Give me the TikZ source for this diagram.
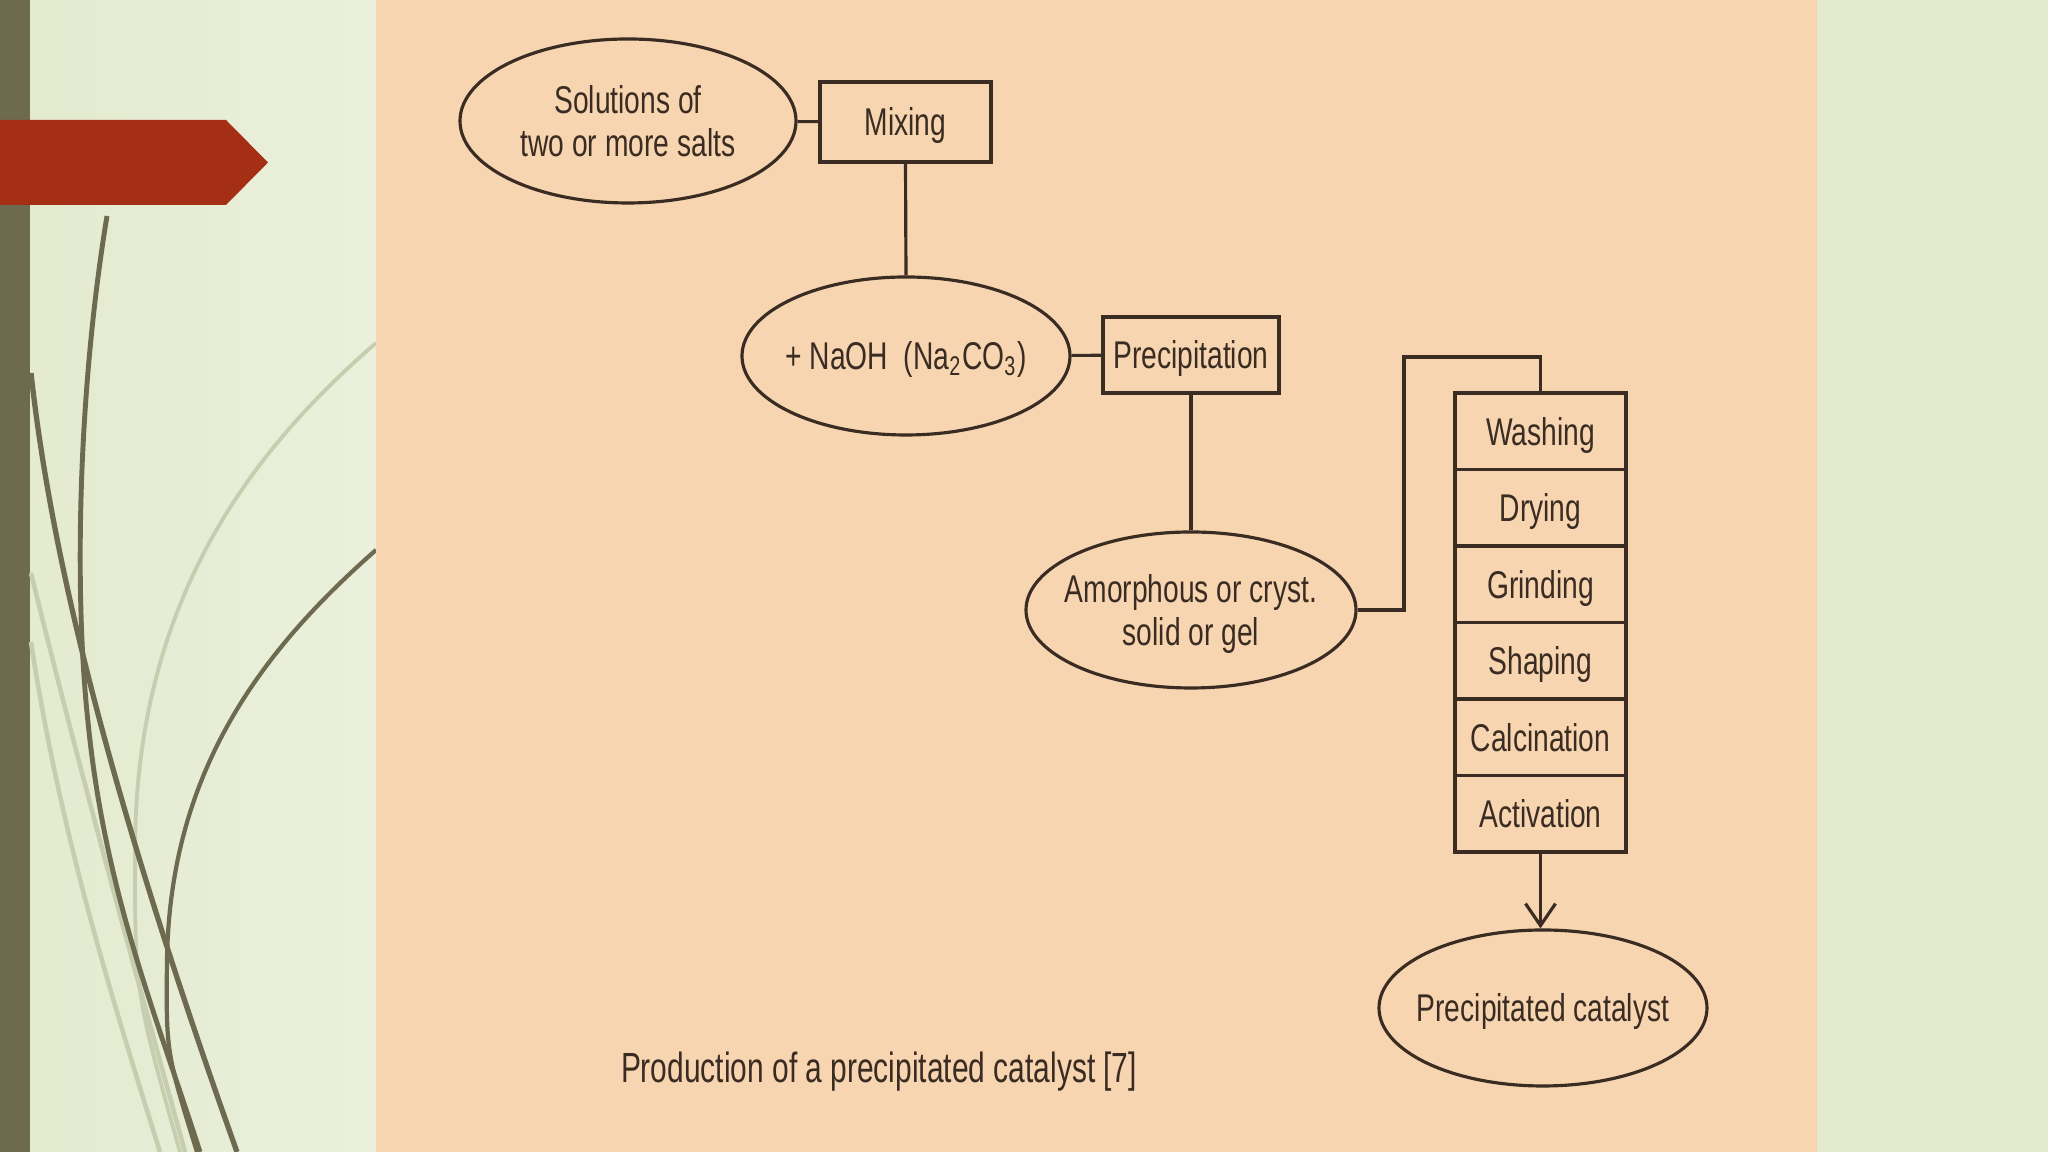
\documentclass[tikz,border=0pt]{standalone}
\usepackage{fontspec}
\setmainfont{Liberation Sans}
\newfontfamily\condfont[FakeStretch=0.73]{Liberation Sans}
\newfontfamily\capfont[FakeStretch=0.71]{Liberation Sans}
\usetikzlibrary{shapes.geometric, arrows.meta, positioning, calc}

\definecolor{peach}{HTML}{F6D5B0}
\definecolor{sage}{HTML}{E3EACD}
\definecolor{sagelight}{HTML}{EBF0DC}
\definecolor{olivebar}{HTML}{6E6A50}
\definecolor{rustred}{HTML}{A52F14}
\definecolor{inkbrown}{HTML}{3A2C22}
\definecolor{palestem}{HTML}{C6CEAF}

\begin{document}
\begin{tikzpicture}[
  line width=0.9pt,
  oval/.style={draw=inkbrown, ellipse, minimum width=3.3cm, minimum height=1.56cm, inner xsep=-1cm, inner ysep=-0.3cm, text depth=0pt, align=center, text=inkbrown, font=\condfont\fontsize{11}{12}\selectfont},
  procbox/.style={draw=inkbrown, rectangle, inner sep=0pt, text depth=0pt, text=inkbrown, font=\condfont\fontsize{11}{12}\selectfont},
  stepcell/.style={draw=inkbrown, rectangle, minimum width=1.71cm, minimum height=0.765cm, inner sep=0pt, outer sep=0pt, text depth=0pt, text=inkbrown, font=\condfont\fontsize{11}{12}\selectfont}
]
\useasboundingbox (0,0) rectangle (20.48,11.52);
% slide background
\shade[left color=sage, right color=sagelight] (0,0) rectangle (3.76,11.52);
\fill[sage] (18.17,0) rectangle (20.48,11.52);
\fill[olivebar] (0,0) rectangle (0.30,11.52);
\fill[rustred] (0,10.32) -- (2.26,10.32) -- (2.68,9.895) -- (2.26,9.47) -- (0,9.47) -- cycle;
% stems
\draw[palestem, line width=1.1pt] (3.76,8.09) .. controls (2.5,7.0) and (1.35,5.5) .. (1.35,3.0) .. controls (1.35,1.6) .. (1.80,0);
\draw[palestem, line width=1.3pt] (0.31,5.79) .. controls (0.8,3.8) and (1.3,2.0) .. (1.85,0);
\draw[palestem, line width=1.3pt] (0.31,5.10) .. controls (0.6,3.2) and (1.1,1.6) .. (1.60,0);
\draw[olivebar, line width=1.4pt] (1.07,9.36) .. controls (0.78,7.6) and (0.74,5.6) .. (0.88,4.3) .. controls (1.05,2.6) and (1.55,1.4) .. (2.00,0);
\draw[olivebar, line width=1.5pt] (0.31,7.79) .. controls (0.55,5.6) and (1.3,3.0) .. (2.37,0);
\draw[olivebar, line width=1.2pt] (3.76,6.02) .. controls (2.6,5.0) and (1.7,3.8) .. (1.67,1.92) .. controls (1.66,1.0) .. (1.97,0);
% figure panel
\fill[peach] (3.76,0) rectangle (18.17,11.52);

% flow chart
\node[oval, minimum width=3.36cm, minimum height=1.64cm] (salts) at (6.28,10.31) {Solutions of\\two or more salts};
\node[procbox, minimum width=1.71cm, minimum height=0.80cm] (mixing) at (9.055,10.30) {Mixing};
\node[oval, minimum width=3.28cm, minimum height=1.58cm] (naoh) at (9.06,7.96) {+ NaOH\ \ (Na\textsubscript{2}CO\textsubscript{3})};
\node[procbox, minimum width=1.76cm, minimum height=0.76cm] (precip) at (11.91,7.97) {Precipitation};
\node[oval] (solid) at (11.91,5.42) {Amorphous or cryst.\\solid or gel};

% treatment steps
\node[stepcell] (wash) at (15.405,7.2075) {Washing};
\node[stepcell, below=0pt of wash] (dry) {Drying};
\node[stepcell, below=0pt of dry] (grind) {Grinding};
\node[stepcell, below=0pt of grind] (shape) {Shaping};
\node[stepcell, below=0pt of shape] (calc) {Calcination};
\node[stepcell, below=0pt of calc] (activ) {Activation};

\node[oval, minimum width=3.28cm] (catalyst) at (15.43,1.44) {Precipitated catalyst};

\coordinate (bend) at (14.04,7.95);

\draw[inkbrown] (salts) -- (mixing);
\draw[inkbrown] (mixing.south) -- (naoh.north);
\draw[inkbrown] (naoh) -- (precip);
\draw[inkbrown] (precip.south) -- (solid.north);
\draw[inkbrown] (solid.east) -| (bend) -| (wash.north);
\draw[inkbrown, -{Straight Barb[length=2.2mm, width=3mm]}] (activ.south) -- (activ.south |- catalyst.north);

\node[text=inkbrown, font=\capfont\fontsize{12}{14}\selectfont] (caption) at (8.79,0.80) {Production of a precipitated catalyst [7]};
\end{tikzpicture}
\end{document}
